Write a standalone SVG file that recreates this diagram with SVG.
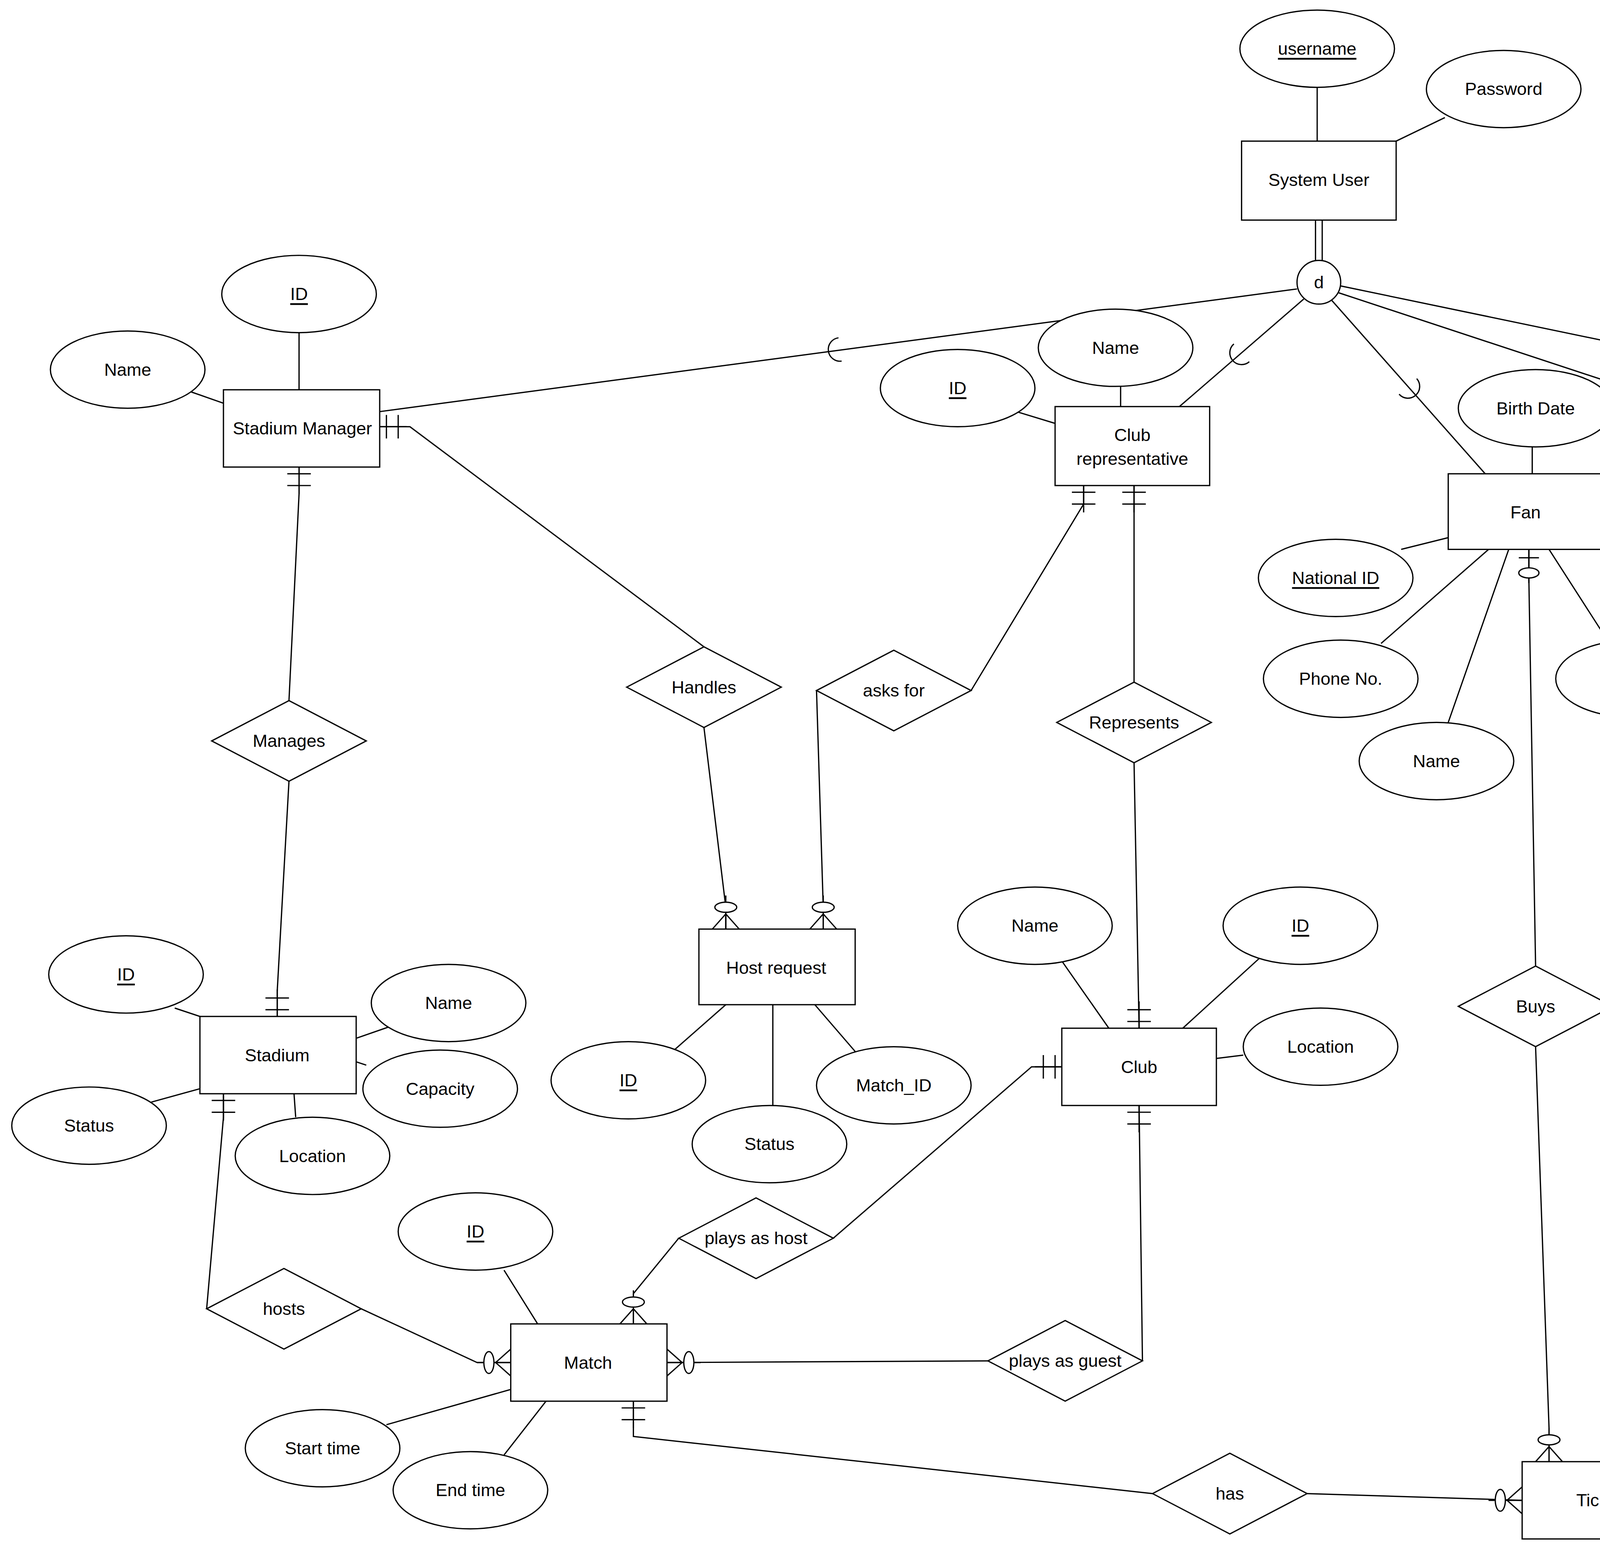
<svg xmlns="http://www.w3.org/2000/svg" width="6744" height="3968" viewBox="0 0 6744 3968">
<style>
.s{fill:none;stroke:#000;stroke-width:0.75}
.e{fill:#fff;stroke:#000;stroke-width:0.75}
.t{font-family:"Liberation Sans",Arial,sans-serif;font-size:10.5px;text-anchor:middle;dominant-baseline:central;fill:#000}
.u{text-decoration:underline}
</style>
<defs>
<g id="om"><path class="s" d="M-8,0 L0,-9 L8,0 M0,0 L0,-20"/><ellipse class="e" cx="0" cy="-13" rx="6.5" ry="3"/></g>
<g id="one"><path class="s" d="M0,0 L0,-16 M-7,-4 L7,-4 M-7,-11 L7,-11"/></g>
<g id="oo"><path class="s" d="M0,0 L0,-20 M-6,-5 L6,-5"/><ellipse class="e" cx="0" cy="-14" rx="6" ry="3"/></g>
<path id="arc" class="s" d="M0,-7 A7,7 0 0 1 0,7"/>
</defs>
<rect width="6744" height="3968" fill="#fff"/>
<g transform="scale(4.301)">
<g id="connectors">
<path class="s" d="M784,52 L784,84 M860,70 L831,84"/>
<path class="s" d="M783,131 L783,155 M787,131 L787,155"/>
<path class="s" d="M772,172 L226,245 M776,178 L702,242 M792,178 L884,282 M796,174 L1169,297 M797,170 L1360,287"/>
<use href="#arc" transform="translate(500,208) rotate(172.4)"/>
<use href="#arc" transform="translate(739,210) rotate(139)"/>
<use href="#arc" transform="translate(838,230) rotate(48.5)"/>
<use href="#arc" transform="translate(982,235) rotate(18.3)"/>
<use href="#arc" transform="translate(1075,228) rotate(11.7)"/>
<path class="s" d="M178,198 L178,232 M113,233 L133,240 M605,245 L628,252 M667,230 L667,242"/>
<path class="s" d="M912,266 L912,282 M834,327 L862,320 M822,383 L886,327 M862,430 L898,327 M958,383 L922,327 M1014,350 L955,326"/>
<path class="s" d="M1207,336 L1197,371 M1266,367 L1238,336 M1406,244 L1406,277 M1469,280 L1453,287"/>
<path class="s" d="M399,627 L432,598 M460,658 L460,598 M510,627 L485,598"/>
<path class="s" d="M632,572 L660,612 M750,570 L704,612 M740,628 L724,630"/>
<path class="s" d="M104,600 L119,605 M235,610 L212,618 M218,634 L212,632 M90,656 L119,648 M176,665 L175,651"/>
<path class="s" d="M300,756 L320,788 M230,848 L304,827 M300,866 L325,834 M1000,830 L971,870 M1040,870 L998,880"/>
<path class="s" d="M178,278 L178,294 L172,417 M172,465 L165,590 L165,605"/>
<path class="s" d="M226,254 L244,254 L419,385 M419,433 L432,540 L432,553"/>
<path class="s" d="M645,289 L645,300 L578,411 M486,411 L490,540 L490,553"/>
<path class="s" d="M675,289 L675,406 M675,454 L678,612"/>
<path class="s" d="M133,651 L133,665 L123,779 M215,779 L284,811 L304,811"/>
<path class="s" d="M377,788 L377,770 L404,737 M496,737 L614,635 L632,635"/>
<path class="s" d="M397,811 L588,810 M680,810 L678,658"/>
<path class="s" d="M377,834 L377,855 L686,889 M778,889 L906,893"/>
<path class="s" d="M910,327 L910,345 L914,575 M914,623 L922,850 L922,870"/>
<use href="#one" transform="translate(178,278) rotate(180)"/>
<use href="#one" transform="translate(165,605)"/>
<use href="#one" transform="translate(226,254) rotate(90)"/>
<use href="#om" transform="translate(432,553)"/>
<use href="#om" transform="translate(490,553)"/>
<use href="#one" transform="translate(645,289) rotate(180)"/>
<use href="#one" transform="translate(675,289) rotate(180)"/>
<use href="#one" transform="translate(678,612)"/>
<use href="#one" transform="translate(632,635) rotate(-90)"/>
<use href="#one" transform="translate(678,658) rotate(180)"/>
<use href="#one" transform="translate(133,651) rotate(180)"/>
<use href="#om" transform="translate(304,811) rotate(-90)"/>
<use href="#om" transform="translate(377,788)"/>
<use href="#om" transform="translate(397,811) rotate(90)"/>
<use href="#one" transform="translate(377,834) rotate(180)"/>
<use href="#om" transform="translate(906,893) rotate(-90)"/>
<use href="#om" transform="translate(922,870)"/>
<use href="#oo" transform="translate(910,327) rotate(180)"/>
</g>
<g id="system-user"><rect class="e" x="739" y="84" width="92" height="47"/><text class="t" x="785" y="107">System User</text></g>
<g id="a-username"><ellipse class="e" cx="784" cy="29" rx="46" ry="23"/><text class="t u" x="784" y="29">username</text></g>
<g id="a-password"><ellipse class="e" cx="895" cy="53" rx="46" ry="23"/><text class="t" x="895" y="53">Password</text></g>
<g id="disjoint"><circle class="e" cx="785" cy="168" r="13"/><text class="t" x="785" y="168">d</text></g>
<g id="stadium-manager"><rect class="e" x="133" y="232" width="93" height="46"/><text class="t" x="180" y="255">Stadium Manager</text></g>
<g id="sm-id"><ellipse class="e" cx="178" cy="175" rx="46" ry="23"/><text class="t u" x="178" y="175">ID</text></g>
<g id="sm-name"><ellipse class="e" cx="76" cy="220" rx="46" ry="23"/><text class="t" x="76" y="220">Name</text></g>
<g id="club-rep"><rect class="e" x="628" y="242" width="92" height="47"/><text class="t" x="674" y="259">Club</text><text class="t" x="674" y="273">representative</text></g>
<g id="cr-id"><ellipse class="e" cx="570" cy="231" rx="46" ry="23"/><text class="t u" x="570" y="231">ID</text></g>
<g id="cr-name"><ellipse class="e" cx="664" cy="207" rx="46" ry="23"/><text class="t" x="664" y="207">Name</text></g>
<g id="fan"><rect class="e" x="862" y="282" width="93" height="45"/><text class="t" x="908" y="305">Fan</text></g>
<g id="fan-bd"><ellipse class="e" cx="914" cy="243" rx="46" ry="23"/><text class="t" x="914" y="243">Birth Date</text></g>
<g id="fan-nid"><ellipse class="e" cx="795" cy="344" rx="46" ry="23"/><text class="t u" x="795" y="344">National ID</text></g>
<g id="fan-phone"><ellipse class="e" cx="798" cy="404" rx="46" ry="23"/><text class="t" x="798" y="404">Phone No.</text></g>
<g id="fan-name"><ellipse class="e" cx="855" cy="453" rx="46" ry="23"/><text class="t" x="855" y="453">Name</text></g>
<g id="fan-address"><ellipse class="e" cx="972" cy="404" rx="46" ry="23"/><text class="t" x="972" y="404">Address</text></g>
<g id="fan-status"><ellipse class="e" cx="1045" cy="365" rx="46" ry="23"/><text class="t" x="1045" y="365">Status</text></g>
<g id="sam"><rect class="e" x="1169" y="290" width="93" height="46"/><text class="t" x="1215" y="299">Sports</text><text class="t" x="1215" y="312">Association</text><text class="t" x="1215" y="325">Manager</text></g>
<g id="sam-id"><ellipse class="e" cx="1189" cy="393" rx="46" ry="23"/><text class="t u" x="1189" y="393">ID</text></g>
<g id="sam-name"><ellipse class="e" cx="1288" cy="387" rx="46" ry="23"/><text class="t" x="1288" y="387">name</text></g>
<g id="system-admin"><rect class="e" x="1360" y="277" width="93" height="46"/><text class="t" x="1406" y="300">System Admin</text></g>
<g id="sa-id"><ellipse class="e" cx="1406" cy="221" rx="46" ry="23"/><text class="t u" x="1406" y="221">ID</text></g>
<g id="sa-name"><ellipse class="e" cx="1515" cy="267" rx="46" ry="23"/><text class="t" x="1515" y="267">Name</text></g>
<g id="handles"><path class="e" d="M373,409 L419,385 L465,409 L419,433 Z"/><text class="t" x="419" y="409">Handles</text></g>
<g id="asks-for"><path class="e" d="M486,411 L532,387 L578,411 L532,435 Z"/><text class="t" x="532" y="411">asks for</text></g>
<g id="represents"><path class="e" d="M629,430 L675,406 L721,430 L675,454 Z"/><text class="t" x="675" y="430">Represents</text></g>
<g id="manages"><path class="e" d="M126,441 L172,417 L218,441 L172,465 Z"/><text class="t" x="172" y="441">Manages</text></g>
<g id="host-request"><rect class="e" x="416" y="553" width="93" height="45"/><text class="t" x="462" y="576">Host request</text></g>
<g id="hr-id"><ellipse class="e" cx="374" cy="643" rx="46" ry="23"/><text class="t u" x="374" y="643">ID</text></g>
<g id="hr-status"><ellipse class="e" cx="458" cy="681" rx="46" ry="23"/><text class="t" x="458" y="681">Status</text></g>
<g id="hr-matchid"><ellipse class="e" cx="532" cy="646" rx="46" ry="23"/><text class="t" x="532" y="646">Match_ID</text></g>
<g id="club"><rect class="e" x="632" y="612" width="92" height="46"/><text class="t" x="678" y="635">Club</text></g>
<g id="club-name"><ellipse class="e" cx="616" cy="551" rx="46" ry="23"/><text class="t" x="616" y="551">Name</text></g>
<g id="club-id"><ellipse class="e" cx="774" cy="551" rx="46" ry="23"/><text class="t u" x="774" y="551">ID</text></g>
<g id="club-location"><ellipse class="e" cx="786" cy="623" rx="46" ry="23"/><text class="t" x="786" y="623">Location</text></g>
<g id="buys"><path class="e" d="M868,599 L914,575 L960,599 L914,623 Z"/><text class="t" x="914" y="599">Buys</text></g>
<g id="stadium"><rect class="e" x="119" y="605" width="93" height="46"/><text class="t" x="165" y="628">Stadium</text></g>
<g id="st-id"><ellipse class="e" cx="75" cy="580" rx="46" ry="23"/><text class="t u" x="75" y="580">ID</text></g>
<g id="st-name"><ellipse class="e" cx="267" cy="597" rx="46" ry="23"/><text class="t" x="267" y="597">Name</text></g>
<g id="st-capacity"><ellipse class="e" cx="262" cy="648" rx="46" ry="23"/><text class="t" x="262" y="648">Capacity</text></g>
<g id="st-status"><ellipse class="e" cx="53" cy="670" rx="46" ry="23"/><text class="t" x="53" y="670">Status</text></g>
<g id="st-location"><ellipse class="e" cx="186" cy="688" rx="46" ry="23"/><text class="t" x="186" y="688">Location</text></g>
<g id="plays-as-host"><path class="e" d="M404,737 L450,713 L496,737 L450,761 Z"/><text class="t" x="450" y="737">plays as host</text></g>
<g id="hosts"><path class="e" d="M123,779 L169,755 L215,779 L169,803 Z"/><text class="t" x="169" y="779">hosts</text></g>
<g id="match"><rect class="e" x="304" y="788" width="93" height="46"/><text class="t" x="350" y="811">Match</text></g>
<g id="m-id"><ellipse class="e" cx="283" cy="733" rx="46" ry="23"/><text class="t u" x="283" y="733">ID</text></g>
<g id="m-start"><ellipse class="e" cx="192" cy="862" rx="46" ry="23"/><text class="t" x="192" y="862">Start time</text></g>
<g id="m-end"><ellipse class="e" cx="280" cy="887" rx="46" ry="23"/><text class="t" x="280" y="887">End time</text></g>
<g id="plays-as-guest"><path class="e" d="M588,810 L634,786 L680,810 L634,834 Z"/><text class="t" x="634" y="810">plays as guest</text></g>
<g id="has"><path class="e" d="M686,889 L732,865 L778,889 L732,913 Z"/><text class="t" x="732" y="889">has</text></g>
<g id="ticket"><rect class="e" x="906" y="870" width="92" height="46"/><text class="t" x="952" y="893">Ticket</text></g>
<g id="t-id"><ellipse class="e" cx="1018" cy="807" rx="46" ry="23"/><text class="t u" x="1018" y="807">ID</text></g>
<g id="t-status"><ellipse class="e" cx="1081" cy="863" rx="46" ry="23"/><text class="t" x="1081" y="863">Status</text></g>
</g>
</svg>
